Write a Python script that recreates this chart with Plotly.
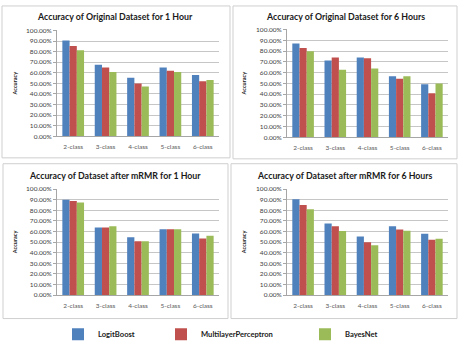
import plotly.graph_objects as go

# Class groupings on the x axis
categories = ["2-class", "3-class", "4-class", "5-class", "6-class"]
classifiers = ["LogitBoost", "MultilayerPerceptron", "BayesNet"]
colors = ["#4F81BD", "#C0504D", "#9BBB59"]

# Accuracy (%) per classifier, original dataset, 1 hour window
orig_1h_logit = [90.6, 67.5, 55.2, 65.0, 57.8]
orig_1h_mlp = [85.3, 65.0, 50.0, 62.0, 52.0]
orig_1h_bayes = [81.2, 60.7, 47.0, 60.8, 53.3]

# Original dataset, 6 hour window
orig_6h_logit = [87.0, 71.2, 74.0, 56.6, 49.1]
orig_6h_mlp = [82.9, 74.0, 73.4, 54.4, 40.9]
orig_6h_bayes = [79.7, 62.6, 63.7, 56.6, 50.0]

# Dataset after mRMR feature selection, 1 hour window
mrmr_1h_logit = [90.0, 63.8, 54.6, 62.2, 58.1]
mrmr_1h_mlp = [88.8, 63.8, 50.9, 62.2, 53.4]
mrmr_1h_bayes = [87.5, 65.0, 50.9, 62.2, 56.0]

# Dataset after mRMR feature selection, 6 hour window
mrmr_6h_logit = [90.4, 67.6, 55.3, 65.0, 58.0]
mrmr_6h_mlp = [85.0, 65.0, 50.0, 62.0, 52.3]
mrmr_6h_bayes = [81.0, 60.6, 47.0, 60.7, 53.3]

panels = [
    ("Accuracy of Original Dataset for 1 Hour", [orig_1h_logit, orig_1h_mlp, orig_1h_bayes]),
    ("Accuracy of Original Dataset for 6 Hours", [orig_6h_logit, orig_6h_mlp, orig_6h_bayes]),
    ("Accuracy of Dataset after mRMR for 1 Hour", [mrmr_1h_logit, mrmr_1h_mlp, mrmr_1h_bayes]),
    ("Accuracy of Dataset after mRMR for 6 Hours", [mrmr_6h_logit, mrmr_6h_mlp, mrmr_6h_bayes]),
]

W, H = 474, 349
FONT = "Lato"

# Pixel layout of each panel: plot area (x0, x1, ytop, ybottom) and frame box
plot_px = [(57, 219, 27, 135), (287, 448, 26, 136), (57, 219, 189, 297), (287, 448, 189, 297)]
frame_px = [(2, 2, 230, 157), (233, 2, 457, 158), (3, 163, 228, 321), (231, 163, 457, 321)]
title_px = [(115, 13), (345, 13), (115, 175), (345, 175)]
ytitle_px = [15, 244, 15, 244]

fig = go.Figure()
layout = dict(
    width=W, height=H,
    margin=dict(l=0, r=0, t=0, b=0),
    paper_bgcolor="white", plot_bgcolor="white",
    barmode="group", bargap=0.33, bargroupgap=0,
    font=dict(family=FONT, color="#404040"),
    showlegend=True,
)
annotations = []
shapes = []

for i, (title, series) in enumerate(panels):
    n = "" if i == 0 else str(i + 1)
    x0, x1, yt, yb = plot_px[i]
    for j, (name, vals) in enumerate(zip(classifiers, series)):
        fig.add_trace(go.Bar(
            x=categories, y=vals, name=name,
            marker=dict(color=colors[j], line=dict(width=0)),
            xaxis="x" + n, yaxis="y" + n,
            showlegend=(i == 0),
            legend="legend" if j == 0 else "legend" + str(j + 1),
        ))
    layout["xaxis" + n] = dict(
        domain=[x0 / W, x1 / W], anchor="y" + n,
        showline=True, linecolor="#a6a6a6", linewidth=1,
        showgrid=False, ticks="", tickfont=dict(size=6.5, color="#595959", family=FONT),
        ticklabelstandoff=4,
    )
    layout["yaxis" + n] = dict(
        domain=[1 - yb / H, 1 - yt / H], anchor="x" + n,
        range=[0, 100], dtick=10, tickformat=".2f", ticksuffix="%",
        showline=True, linecolor="#a6a6a6", linewidth=1,
        showgrid=True, gridcolor="#c6c6c6", gridwidth=1,
        ticks="outside", ticklen=3, tickcolor="#a6a6a6",
        tickfont=dict(size=6.5, color="#404040", family=FONT),
        zeroline=False,
    )
    annotations.append(dict(
        text="<b>" + title + "</b>", x=title_px[i][0] / W, y=1 - title_px[i][1] / H,
        xref="paper", yref="paper", showarrow=False,
        font=dict(size=8.8, color="#1a1a1a", family=FONT),
        xanchor="center", yanchor="middle",
    ))
    annotations.append(dict(
        text="<b>Accuracy</b>", x=ytitle_px[i] / W, y=1 - (yt + yb) / 2 / H,
        xref="paper", yref="paper", showarrow=False, textangle=-90,
        font=dict(size=5.5, color="#1a1a1a", family=FONT),
        xanchor="center", yanchor="middle",
    ))
    fx0, fy0, fx1, fy1 = frame_px[i]
    shapes.append(dict(
        type="rect", xref="paper", yref="paper",
        x0=fx0 / W, x1=fx1 / W, y0=1 - fy1 / H, y1=1 - fy0 / H,
        line=dict(color="#cfcfcf", width=1), layer="below",
    ))

# One legend per classifier so the entries sit at their own positions
legend_x = [58, 161, 305]
for j in range(3):
    key = "legend" if j == 0 else "legend" + str(j + 1)
    layout[key] = dict(
        x=legend_x[j] / W, y=1 - 337 / H, xanchor="left", yanchor="middle",
        orientation="h", bgcolor="rgba(0,0,0,0)",
        font=dict(size=7.6, color="#1a1a1a", family=FONT, weight="bold"),
        itemwidth=30,
    )

layout["annotations"] = annotations
layout["shapes"] = shapes
fig.update_layout(**layout)
fig.write_html("out.html")
